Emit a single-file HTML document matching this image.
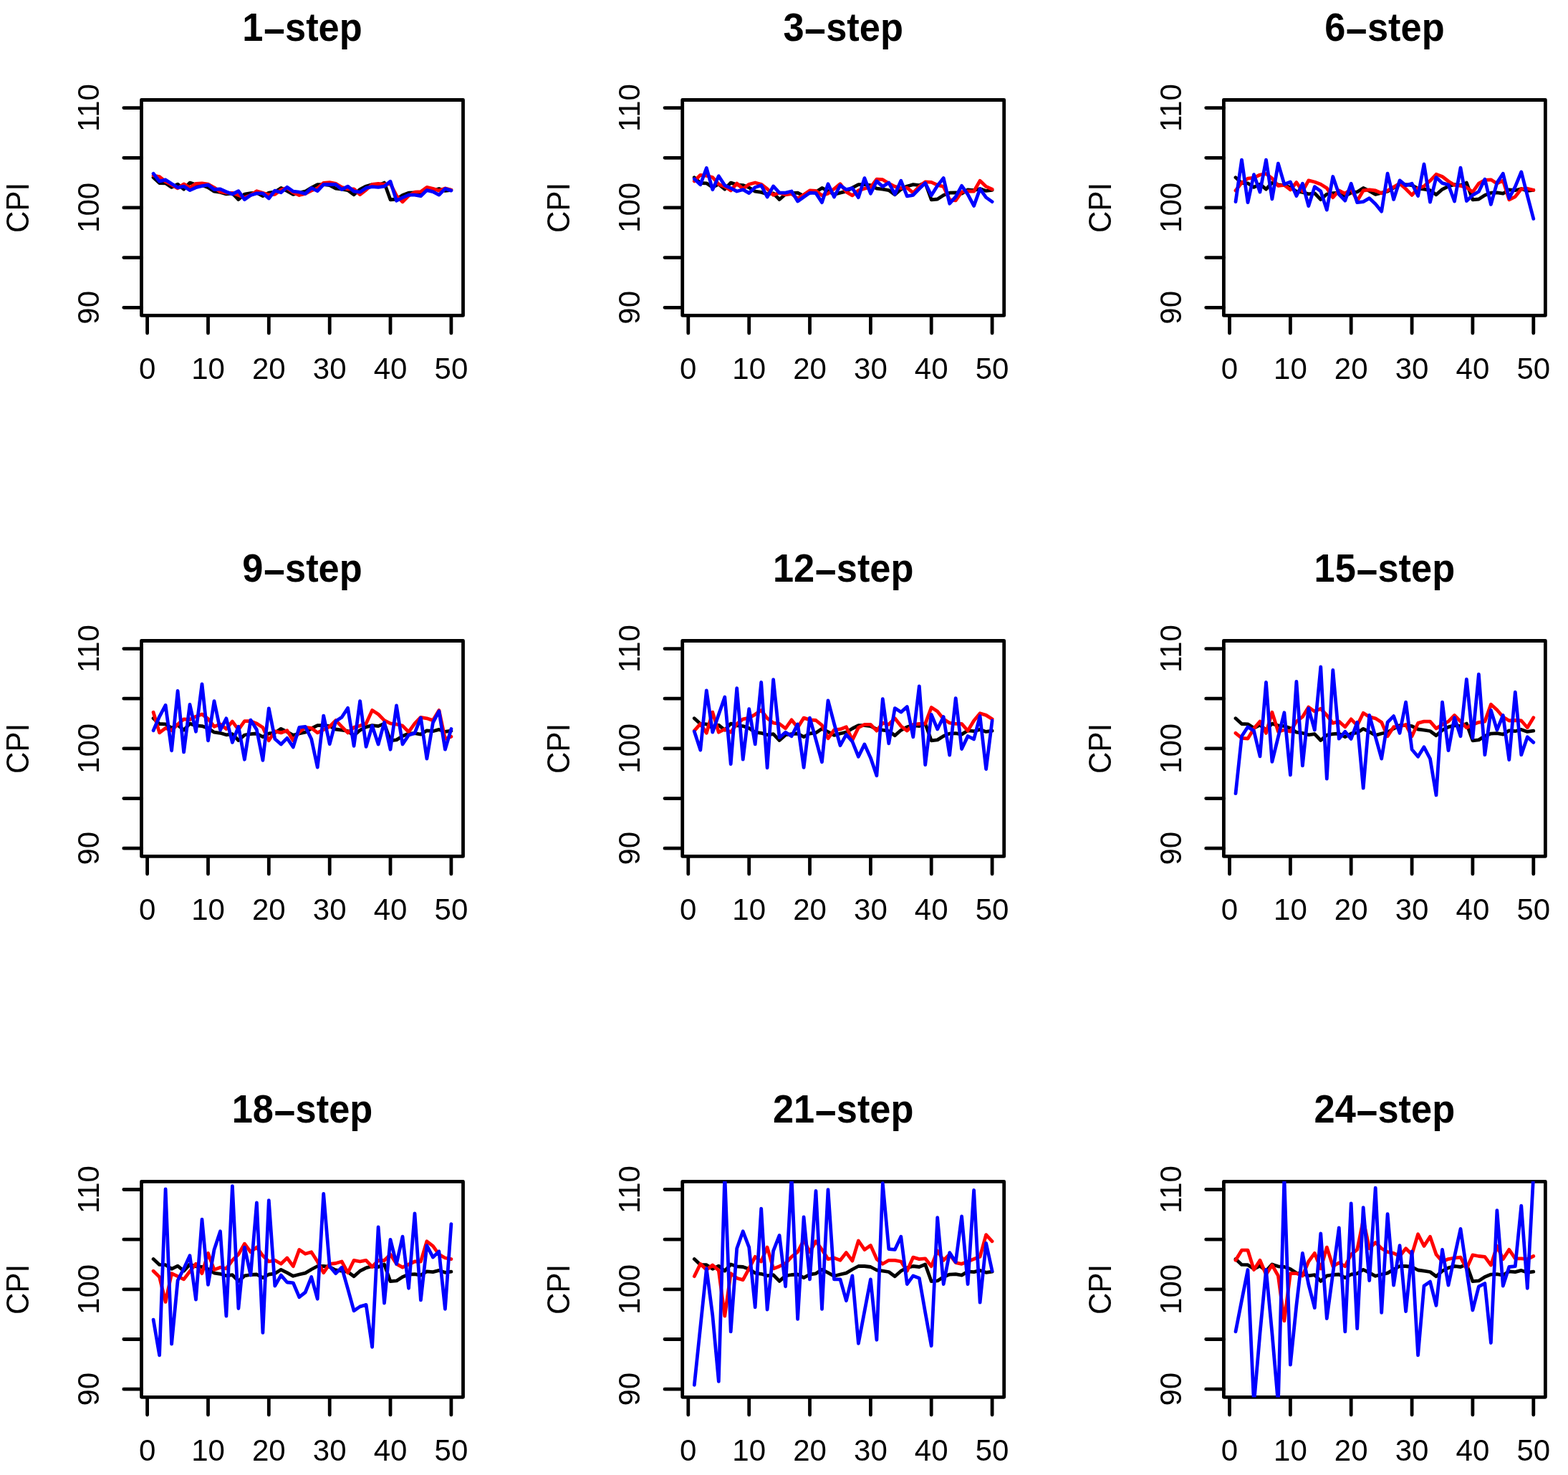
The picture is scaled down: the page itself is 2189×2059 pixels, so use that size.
<!DOCTYPE html><html><head><meta charset="utf-8"><style>html,body{margin:0;padding:0;background:#fff;}svg{display:block}</style></head><body>
<svg width="2189" height="2059" viewBox="0 0 2189 2059">
<rect width="2189" height="2059" fill="#fff"/>
<g font-family="'Liberation Sans', Arial, Helvetica, sans-serif" fill="#000">
<clipPath id="cp0"><rect x="197.2" y="139.2" width="449.6" height="301.5"/></clipPath>
<polyline points="214.1,247.7 222.6,255.5 231.1,255.8 239.6,261.4 248.1,257.2 256.6,264.2 265.0,255.1 273.5,257.9 282.0,258.6 290.5,261.7 299.0,267.2 307.5,268.4 315.9,270.9 324.4,269.8 332.9,278.5 341.4,271.0 349.9,269.6 358.4,269.1 366.9,273.7 375.3,269.1 383.8,267.9 392.3,262.4 400.8,266.7 409.3,271.4 417.8,269.1 426.2,267.2 434.7,262.1 443.2,257.6 451.7,257.6 460.2,258.6 468.7,263.1 477.1,264.2 485.6,265.6 494.1,271.8 502.6,264.3 511.1,260.0 519.6,257.6 528.1,258.6 536.5,255.1 545.0,278.8 553.5,278.0 562.0,272.5 570.5,269.2 579.0,268.8 587.4,270.2 595.9,264.9 604.4,265.7 612.9,263.5 621.4,266.4 629.9,265.3" fill="none" stroke="#000" stroke-width="4.8" stroke-linejoin="round" stroke-linecap="round" clip-path="url(#cp0)"/>
<rect x="197.5" y="139.5" width="449.0" height="300.9" fill="none" stroke="#000" stroke-width="4.8" stroke-linejoin="round"/>
<polyline points="214.1,245.0 222.6,246.6 231.1,253.7 239.6,257.9 248.1,262.9 256.6,256.9 265.0,261.8 273.5,256.4 282.0,255.8 290.5,257.2 299.0,261.8 307.5,267.7 315.9,269.1 324.4,269.3 332.9,272.5 341.4,275.7 349.9,272.5 358.4,266.7 366.9,269.3 375.3,272.0 383.8,271.4 392.3,265.0 400.8,262.4 409.3,268.8 417.8,272.5 426.2,270.4 434.7,266.1 443.2,262.9 451.7,255.3 460.2,254.7 468.7,256.4 477.1,261.3 485.6,263.9 494.1,263.9 502.6,271.6 511.1,265.0 519.6,257.5 528.1,256.4 536.5,257.5 545.0,256.5 553.5,273.2 562.0,281.7 570.5,273.2 579.0,268.2 587.4,267.7 595.9,261.3 604.4,263.3 612.9,266.1 621.4,262.9 629.9,265.0" fill="none" stroke="#f00" stroke-width="4.8" stroke-linejoin="round" stroke-linecap="round" clip-path="url(#cp0)"/>
<polyline points="214.1,242.3 222.6,253.2 231.1,250.9 239.6,256.4 248.1,261.8 256.6,260.1 265.0,265.6 273.5,261.8 282.0,259.6 290.5,258.0 299.0,264.5 307.5,263.9 315.9,267.7 324.4,271.0 332.9,266.7 341.4,278.5 349.9,272.5 358.4,269.9 366.9,269.9 375.3,276.9 383.8,266.1 392.3,268.8 400.8,261.3 409.3,267.2 417.8,268.2 426.2,270.4 434.7,262.4 443.2,266.7 451.7,257.5 460.2,257.5 468.7,257.5 477.1,264.5 485.6,260.1 494.1,267.2 502.6,268.2 511.1,262.4 519.6,260.7 528.1,261.3 536.5,260.1 545.0,253.2 553.5,280.2 562.0,275.9 570.5,272.1 579.0,272.1 587.4,273.7 595.9,265.6 604.4,267.7 612.9,272.1 621.4,263.3 629.9,266.1" fill="none" stroke="#00f" stroke-width="4.8" stroke-linejoin="round" stroke-linecap="round" clip-path="url(#cp0)"/>
<path d="M172.8,429.3H197.5M172.8,359.6H197.5M172.8,289.9H197.5M172.8,220.3H197.5M172.8,150.6H197.5M205.6,440.4V465.1M290.5,440.4V465.1M375.3,440.4V465.1M460.2,440.4V465.1M545.0,440.4V465.1M629.9,440.4V465.1" stroke="#000" stroke-width="4.8" stroke-linecap="round" fill="none"/>
<text x="205.6" y="528.8" font-size="42" text-anchor="middle">0</text>
<text x="290.5" y="528.8" font-size="42" text-anchor="middle">10</text>
<text x="375.3" y="528.8" font-size="42" text-anchor="middle">20</text>
<text x="460.2" y="528.8" font-size="42" text-anchor="middle">30</text>
<text x="545.0" y="528.8" font-size="42" text-anchor="middle">40</text>
<text x="629.9" y="528.8" font-size="42" text-anchor="middle">50</text>
<text transform="translate(137.9,429.3) rotate(-90)" font-size="42" text-anchor="middle">90</text>
<text transform="translate(137.9,289.9) rotate(-90)" font-size="42" text-anchor="middle">100</text>
<text transform="translate(137.9,150.6) rotate(-90)" font-size="42" text-anchor="middle">110</text>
<text transform="translate(40.0,289.9) rotate(-90) scale(1,1.076)" font-size="42" text-anchor="middle">CPI</text>
<text transform="translate(422.0,56.8) scale(1,1.047)" font-size="52.4" font-weight="bold" text-anchor="middle">1<tspan dy="5.2">−</tspan><tspan dy="-5.2">step</tspan></text>
<clipPath id="cp1"><rect x="952.4" y="139.2" width="449.6" height="301.5"/></clipPath>
<polyline points="969.3,247.7 977.8,255.5 986.3,255.8 994.8,261.4 1003.3,257.2 1011.8,264.2 1020.2,255.1 1028.7,257.9 1037.2,258.6 1045.7,261.7 1054.2,267.2 1062.7,268.4 1071.1,270.9 1079.6,269.8 1088.1,278.5 1096.6,271.0 1105.1,269.6 1113.6,269.1 1122.1,273.7 1130.5,269.1 1139.0,267.9 1147.5,262.4 1156.0,266.7 1164.5,271.4 1173.0,269.1 1181.4,267.2 1189.9,262.1 1198.4,257.6 1206.9,257.6 1215.4,258.6 1223.9,263.1 1232.3,264.2 1240.8,265.6 1249.3,271.8 1257.8,264.3 1266.3,260.0 1274.8,257.6 1283.3,258.6 1291.7,255.1 1300.2,278.8 1308.7,278.0 1317.2,272.5 1325.7,269.2 1334.2,268.8 1342.6,270.2 1351.1,264.9 1359.6,265.7 1368.1,263.5 1376.6,266.4 1385.1,265.3" fill="none" stroke="#000" stroke-width="4.8" stroke-linejoin="round" stroke-linecap="round" clip-path="url(#cp1)"/>
<rect x="952.7" y="139.5" width="449.0" height="300.9" fill="none" stroke="#000" stroke-width="4.8" stroke-linejoin="round"/>
<polyline points="969.3,252.9 977.8,244.3 986.3,245.4 994.8,247.5 1003.3,257.2 1011.8,260.4 1020.2,265.9 1028.7,256.1 1037.2,263.6 1045.7,257.2 1054.2,255.0 1062.7,257.2 1071.1,263.6 1079.6,272.3 1088.1,269.1 1096.6,271.8 1105.1,270.7 1113.6,277.1 1122.1,271.8 1130.5,265.9 1139.0,266.4 1147.5,272.8 1156.0,270.2 1164.5,263.6 1173.0,256.7 1181.4,267.9 1189.9,272.8 1198.4,265.9 1206.9,263.2 1215.4,261.5 1223.9,250.1 1232.3,250.7 1240.8,256.1 1249.3,260.4 1257.8,262.6 1266.3,262.1 1274.8,269.1 1283.3,260.4 1291.7,253.9 1300.2,254.4 1308.7,258.3 1317.2,260.4 1325.7,278.8 1334.2,279.9 1342.6,267.9 1351.1,267.0 1359.6,267.0 1368.1,252.3 1376.6,260.4 1385.1,264.2" fill="none" stroke="#f00" stroke-width="4.8" stroke-linejoin="round" stroke-linecap="round" clip-path="url(#cp1)"/>
<polyline points="969.3,249.7 977.8,257.8 986.3,234.5 994.8,264.7 1003.3,245.8 1011.8,258.7 1020.2,262.6 1028.7,267.0 1037.2,264.7 1045.7,269.6 1054.2,261.5 1062.7,258.7 1071.1,275.0 1079.6,259.9 1088.1,269.1 1096.6,269.1 1105.1,267.0 1113.6,281.0 1122.1,275.0 1130.5,269.1 1139.0,269.6 1147.5,282.6 1156.0,256.7 1164.5,275.0 1173.0,258.7 1181.4,264.7 1189.9,262.6 1198.4,275.6 1206.9,248.6 1215.4,270.2 1223.9,252.9 1232.3,260.4 1240.8,255.0 1249.3,271.3 1257.8,252.3 1266.3,273.9 1274.8,272.3 1283.3,263.6 1291.7,255.5 1300.2,272.8 1308.7,259.3 1317.2,248.6 1325.7,284.2 1334.2,274.6 1342.6,259.3 1351.1,271.3 1359.6,287.4 1368.1,263.6 1376.6,275.6 1385.1,281.6" fill="none" stroke="#00f" stroke-width="4.8" stroke-linejoin="round" stroke-linecap="round" clip-path="url(#cp1)"/>
<path d="M928.0,429.3H952.7M928.0,359.6H952.7M928.0,289.9H952.7M928.0,220.3H952.7M928.0,150.6H952.7M960.8,440.4V465.1M1045.7,440.4V465.1M1130.5,440.4V465.1M1215.4,440.4V465.1M1300.2,440.4V465.1M1385.1,440.4V465.1" stroke="#000" stroke-width="4.8" stroke-linecap="round" fill="none"/>
<text x="960.8" y="528.8" font-size="42" text-anchor="middle">0</text>
<text x="1045.7" y="528.8" font-size="42" text-anchor="middle">10</text>
<text x="1130.5" y="528.8" font-size="42" text-anchor="middle">20</text>
<text x="1215.4" y="528.8" font-size="42" text-anchor="middle">30</text>
<text x="1300.2" y="528.8" font-size="42" text-anchor="middle">40</text>
<text x="1385.1" y="528.8" font-size="42" text-anchor="middle">50</text>
<text transform="translate(893.1,429.3) rotate(-90)" font-size="42" text-anchor="middle">90</text>
<text transform="translate(893.1,289.9) rotate(-90)" font-size="42" text-anchor="middle">100</text>
<text transform="translate(893.1,150.6) rotate(-90)" font-size="42" text-anchor="middle">110</text>
<text transform="translate(795.2,289.9) rotate(-90) scale(1,1.076)" font-size="42" text-anchor="middle">CPI</text>
<text transform="translate(1177.2,56.8) scale(1,1.047)" font-size="52.4" font-weight="bold" text-anchor="middle">3<tspan dy="5.2">−</tspan><tspan dy="-5.2">step</tspan></text>
<clipPath id="cp2"><rect x="1708.1" y="139.2" width="449.6" height="301.5"/></clipPath>
<polyline points="1725.0,247.7 1733.5,255.5 1742.0,255.8 1750.5,261.4 1759.0,257.2 1767.5,264.2 1775.9,255.1 1784.4,257.9 1792.9,258.6 1801.4,261.7 1809.9,267.2 1818.4,268.4 1826.8,270.9 1835.3,269.8 1843.8,278.5 1852.3,271.0 1860.8,269.6 1869.3,269.1 1877.8,273.7 1886.2,269.1 1894.7,267.9 1903.2,262.4 1911.7,266.7 1920.2,271.4 1928.7,269.1 1937.1,267.2 1945.6,262.1 1954.1,257.6 1962.6,257.6 1971.1,258.6 1979.6,263.1 1988.0,264.2 1996.5,265.6 2005.0,271.8 2013.5,264.3 2022.0,260.0 2030.5,257.6 2039.0,258.6 2047.4,255.1 2055.9,278.8 2064.4,278.0 2072.9,272.5 2081.4,269.2 2089.9,268.8 2098.3,270.2 2106.8,264.9 2115.3,265.7 2123.8,263.5 2132.3,266.4 2140.8,265.3" fill="none" stroke="#000" stroke-width="4.8" stroke-linejoin="round" stroke-linecap="round" clip-path="url(#cp2)"/>
<rect x="1708.4" y="139.5" width="449.0" height="300.9" fill="none" stroke="#000" stroke-width="4.8" stroke-linejoin="round"/>
<polyline points="1725.0,266.0 1733.5,255.1 1742.0,249.1 1750.5,248.2 1759.0,244.0 1767.5,242.6 1775.9,248.9 1784.4,259.3 1792.9,258.3 1801.4,264.9 1809.9,254.6 1818.4,267.0 1826.8,251.9 1835.3,254.0 1843.8,257.2 1852.3,262.6 1860.8,275.6 1869.3,266.0 1877.8,270.3 1886.2,263.5 1894.7,280.5 1903.2,266.0 1911.7,264.9 1920.2,266.0 1928.7,269.8 1937.1,266.0 1945.6,261.1 1954.1,256.2 1962.6,263.8 1971.1,272.4 1979.6,262.6 1988.0,260.0 1996.5,252.3 2005.0,243.3 2013.5,246.5 2022.0,253.0 2030.5,258.3 2039.0,259.4 2047.4,261.7 2055.9,268.1 2064.4,256.2 2072.9,251.4 2081.4,250.8 2089.9,256.2 2098.3,251.9 2106.8,278.9 2115.3,274.6 2123.8,263.8 2132.3,263.2 2140.8,265.4" fill="none" stroke="#f00" stroke-width="4.8" stroke-linejoin="round" stroke-linecap="round" clip-path="url(#cp2)"/>
<polyline points="1725.0,281.6 1733.5,223.2 1742.0,282.7 1750.5,243.7 1759.0,268.1 1767.5,223.2 1775.9,277.8 1784.4,228.1 1792.9,257.2 1801.4,254.0 1809.9,273.5 1818.4,256.2 1826.8,287.6 1835.3,260.6 1843.8,267.0 1852.3,293.0 1860.8,246.5 1869.3,271.3 1877.8,280.1 1886.2,256.2 1894.7,282.7 1903.2,281.6 1911.7,276.7 1920.2,284.8 1928.7,295.1 1937.1,242.2 1945.6,278.4 1954.1,251.9 1962.6,258.9 1971.1,256.2 1979.6,273.5 1988.0,229.2 1996.5,282.1 2005.0,247.6 2013.5,255.7 2022.0,257.8 2030.5,281.0 2039.0,234.1 2047.4,280.5 2055.9,272.4 2064.4,267.5 2072.9,250.2 2081.4,285.4 2089.9,255.1 2098.3,242.2 2106.8,276.7 2115.3,260.6 2123.8,239.9 2132.3,273.2 2140.8,305.4" fill="none" stroke="#00f" stroke-width="4.8" stroke-linejoin="round" stroke-linecap="round" clip-path="url(#cp2)"/>
<path d="M1683.7,429.3H1708.4M1683.7,359.6H1708.4M1683.7,289.9H1708.4M1683.7,220.3H1708.4M1683.7,150.6H1708.4M1716.5,440.4V465.1M1801.4,440.4V465.1M1886.2,440.4V465.1M1971.1,440.4V465.1M2055.9,440.4V465.1M2140.8,440.4V465.1" stroke="#000" stroke-width="4.8" stroke-linecap="round" fill="none"/>
<text x="1716.5" y="528.8" font-size="42" text-anchor="middle">0</text>
<text x="1801.4" y="528.8" font-size="42" text-anchor="middle">10</text>
<text x="1886.2" y="528.8" font-size="42" text-anchor="middle">20</text>
<text x="1971.1" y="528.8" font-size="42" text-anchor="middle">30</text>
<text x="2055.9" y="528.8" font-size="42" text-anchor="middle">40</text>
<text x="2140.8" y="528.8" font-size="42" text-anchor="middle">50</text>
<text transform="translate(1648.8,429.3) rotate(-90)" font-size="42" text-anchor="middle">90</text>
<text transform="translate(1648.8,289.9) rotate(-90)" font-size="42" text-anchor="middle">100</text>
<text transform="translate(1648.8,150.6) rotate(-90)" font-size="42" text-anchor="middle">110</text>
<text transform="translate(1550.9,289.9) rotate(-90) scale(1,1.076)" font-size="42" text-anchor="middle">CPI</text>
<text transform="translate(1932.9,56.8) scale(1,1.047)" font-size="52.4" font-weight="bold" text-anchor="middle">6<tspan dy="5.2">−</tspan><tspan dy="-5.2">step</tspan></text>
<clipPath id="cp3"><rect x="197.2" y="894.2" width="449.6" height="301.5"/></clipPath>
<polyline points="214.1,1002.7 222.6,1010.5 231.1,1010.8 239.6,1016.3 248.1,1012.2 256.6,1019.1 265.0,1010.1 273.5,1012.9 282.0,1013.6 290.5,1016.6 299.0,1022.2 307.5,1023.3 315.9,1025.8 324.4,1024.7 332.9,1033.5 341.4,1026.0 349.9,1024.6 358.4,1024.0 366.9,1028.6 375.3,1024.0 383.8,1022.9 392.3,1017.3 400.8,1021.6 409.3,1026.4 417.8,1024.0 426.2,1022.2 434.7,1017.0 443.2,1012.6 451.7,1012.6 460.2,1013.6 468.7,1018.0 477.1,1019.1 485.6,1020.5 494.1,1026.8 502.6,1019.3 511.1,1014.9 519.6,1012.6 528.1,1013.6 536.5,1010.1 545.0,1033.8 553.5,1032.9 562.0,1027.5 570.5,1024.1 579.0,1023.7 587.4,1025.1 595.9,1019.8 604.4,1020.7 612.9,1018.4 621.4,1021.4 629.9,1020.2" fill="none" stroke="#000" stroke-width="4.8" stroke-linejoin="round" stroke-linecap="round" clip-path="url(#cp3)"/>
<rect x="197.5" y="894.5" width="449.0" height="300.9" fill="none" stroke="#000" stroke-width="4.8" stroke-linejoin="round"/>
<polyline points="214.1,994.2 222.6,1022.9 231.1,1016.3 239.6,1019.7 248.1,1011.0 256.6,1003.9 265.0,1004.5 273.5,1000.2 282.0,997.0 290.5,1003.4 299.0,1014.3 307.5,1011.0 315.9,1017.5 324.4,1007.1 332.9,1018.6 341.4,1006.7 349.9,1006.7 358.4,1009.9 366.9,1015.4 375.3,1033.8 383.8,1020.8 392.3,1022.9 400.8,1019.7 409.3,1033.8 417.8,1021.8 426.2,1015.4 434.7,1016.3 443.2,1022.9 451.7,1018.6 460.2,1014.3 468.7,1005.6 477.1,1014.3 485.6,1022.9 494.1,1015.4 502.6,1013.1 511.1,1009.9 519.6,991.5 528.1,997.0 536.5,1005.6 545.0,1009.9 553.5,1011.0 562.0,1013.1 570.5,1021.8 579.0,1009.9 587.4,1001.3 595.9,1002.8 604.4,1005.6 612.9,991.5 621.4,1031.5 629.9,1028.3" fill="none" stroke="#f00" stroke-width="4.8" stroke-linejoin="round" stroke-linecap="round" clip-path="url(#cp3)"/>
<polyline points="214.1,1019.7 222.6,1000.3 231.1,984.4 239.6,1047.8 248.1,964.5 256.6,1049.9 265.0,983.5 273.5,1021.2 282.0,954.8 290.5,1033.8 299.0,978.6 307.5,1019.1 315.9,1002.8 324.4,1036.4 332.9,1014.3 341.4,1060.2 349.9,1005.1 358.4,1018.6 366.9,1061.3 375.3,988.8 383.8,1031.5 392.3,1039.0 400.8,1030.4 409.3,1042.9 417.8,1015.4 426.2,1014.3 434.7,1031.5 443.2,1071.1 451.7,999.1 460.2,1038.6 468.7,1006.7 477.1,1001.3 485.6,988.3 494.1,1041.3 502.6,978.6 511.1,1042.4 519.6,1013.1 528.1,1039.0 536.5,1008.3 545.0,1046.2 553.5,985.0 562.0,1039.0 570.5,1026.1 579.0,1023.4 587.4,1001.9 595.9,1059.1 604.4,1008.8 612.9,992.7 621.4,1046.2 629.9,1017.5" fill="none" stroke="#00f" stroke-width="4.8" stroke-linejoin="round" stroke-linecap="round" clip-path="url(#cp3)"/>
<path d="M172.8,1184.2H197.5M172.8,1114.6H197.5M172.8,1044.9H197.5M172.8,975.2H197.5M172.8,905.6H197.5M205.6,1195.3V1220.0M290.5,1195.3V1220.0M375.3,1195.3V1220.0M460.2,1195.3V1220.0M545.0,1195.3V1220.0M629.9,1195.3V1220.0" stroke="#000" stroke-width="4.8" stroke-linecap="round" fill="none"/>
<text x="205.6" y="1283.8" font-size="42" text-anchor="middle">0</text>
<text x="290.5" y="1283.8" font-size="42" text-anchor="middle">10</text>
<text x="375.3" y="1283.8" font-size="42" text-anchor="middle">20</text>
<text x="460.2" y="1283.8" font-size="42" text-anchor="middle">30</text>
<text x="545.0" y="1283.8" font-size="42" text-anchor="middle">40</text>
<text x="629.9" y="1283.8" font-size="42" text-anchor="middle">50</text>
<text transform="translate(137.9,1184.2) rotate(-90)" font-size="42" text-anchor="middle">90</text>
<text transform="translate(137.9,1044.9) rotate(-90)" font-size="42" text-anchor="middle">100</text>
<text transform="translate(137.9,905.6) rotate(-90)" font-size="42" text-anchor="middle">110</text>
<text transform="translate(40.0,1044.9) rotate(-90) scale(1,1.076)" font-size="42" text-anchor="middle">CPI</text>
<text transform="translate(422.0,811.8) scale(1,1.047)" font-size="52.4" font-weight="bold" text-anchor="middle">9<tspan dy="5.2">−</tspan><tspan dy="-5.2">step</tspan></text>
<clipPath id="cp4"><rect x="952.4" y="894.2" width="449.6" height="301.5"/></clipPath>
<polyline points="969.3,1002.7 977.8,1010.5 986.3,1010.8 994.8,1016.3 1003.3,1012.2 1011.8,1019.1 1020.2,1010.1 1028.7,1012.9 1037.2,1013.6 1045.7,1016.6 1054.2,1022.2 1062.7,1023.3 1071.1,1025.8 1079.6,1024.7 1088.1,1033.5 1096.6,1026.0 1105.1,1024.6 1113.6,1024.0 1122.1,1028.6 1130.5,1024.0 1139.0,1022.9 1147.5,1017.3 1156.0,1021.6 1164.5,1026.4 1173.0,1024.0 1181.4,1022.2 1189.9,1017.0 1198.4,1012.6 1206.9,1012.6 1215.4,1013.6 1223.9,1018.0 1232.3,1019.1 1240.8,1020.5 1249.3,1026.8 1257.8,1019.3 1266.3,1014.9 1274.8,1012.6 1283.3,1013.6 1291.7,1010.1 1300.2,1033.8 1308.7,1032.9 1317.2,1027.5 1325.7,1024.1 1334.2,1023.7 1342.6,1025.1 1351.1,1019.8 1359.6,1020.7 1368.1,1018.4 1376.6,1021.4 1385.1,1020.2" fill="none" stroke="#000" stroke-width="4.8" stroke-linejoin="round" stroke-linecap="round" clip-path="url(#cp4)"/>
<rect x="952.7" y="894.5" width="449.0" height="300.9" fill="none" stroke="#000" stroke-width="4.8" stroke-linejoin="round"/>
<polyline points="969.3,1020.1 977.8,1010.4 986.3,1023.3 994.8,994.1 1003.3,1022.2 1011.8,1017.9 1020.2,1022.2 1028.7,1010.4 1037.2,1003.8 1045.7,1002.1 1054.2,997.3 1062.7,991.4 1071.1,1002.7 1079.6,1009.2 1088.1,1010.4 1096.6,1016.8 1105.1,1004.9 1113.6,1015.6 1122.1,1002.1 1130.5,1004.9 1139.0,1005.5 1147.5,1012.4 1156.0,1030.8 1164.5,1019.0 1173.0,1017.9 1181.4,1014.7 1189.9,1033.1 1198.4,1015.6 1206.9,1011.3 1215.4,1011.3 1223.9,1020.1 1232.3,1009.2 1240.8,1011.3 1249.3,1002.7 1257.8,1013.6 1266.3,1020.1 1274.8,1011.3 1283.3,1010.4 1291.7,1010.4 1300.2,987.6 1308.7,993.1 1317.2,1003.8 1325.7,1009.2 1334.2,1010.4 1342.6,1010.4 1351.1,1020.1 1359.6,1006.0 1368.1,995.7 1376.6,998.4 1385.1,1003.8" fill="none" stroke="#f00" stroke-width="4.8" stroke-linejoin="round" stroke-linecap="round" clip-path="url(#cp4)"/>
<polyline points="969.3,1021.1 977.8,1047.1 986.3,963.8 994.8,1022.2 1003.3,997.5 1011.8,973.0 1020.2,1066.5 1028.7,960.6 1037.2,1060.1 1045.7,989.7 1054.2,1038.9 1062.7,952.4 1071.1,1071.9 1079.6,948.6 1088.1,1029.7 1096.6,1022.2 1105.1,1027.6 1113.6,1010.9 1122.1,1071.4 1130.5,1002.1 1139.0,1032.4 1147.5,1063.8 1156.0,977.9 1164.5,1010.1 1173.0,1040.7 1181.4,1025.4 1189.9,1035.1 1198.4,1056.3 1206.9,1038.9 1215.4,1057.9 1223.9,1082.8 1232.3,975.7 1240.8,1037.9 1249.3,988.6 1257.8,994.1 1266.3,986.5 1274.8,1028.7 1283.3,957.8 1291.7,1067.6 1300.2,997.3 1308.7,1017.9 1317.2,1000.6 1325.7,1054.1 1334.2,974.6 1342.6,1045.5 1351.1,1027.6 1359.6,1031.9 1368.1,999.5 1376.6,1073.6 1385.1,1006.0" fill="none" stroke="#00f" stroke-width="4.8" stroke-linejoin="round" stroke-linecap="round" clip-path="url(#cp4)"/>
<path d="M928.0,1184.2H952.7M928.0,1114.6H952.7M928.0,1044.9H952.7M928.0,975.2H952.7M928.0,905.6H952.7M960.8,1195.3V1220.0M1045.7,1195.3V1220.0M1130.5,1195.3V1220.0M1215.4,1195.3V1220.0M1300.2,1195.3V1220.0M1385.1,1195.3V1220.0" stroke="#000" stroke-width="4.8" stroke-linecap="round" fill="none"/>
<text x="960.8" y="1283.8" font-size="42" text-anchor="middle">0</text>
<text x="1045.7" y="1283.8" font-size="42" text-anchor="middle">10</text>
<text x="1130.5" y="1283.8" font-size="42" text-anchor="middle">20</text>
<text x="1215.4" y="1283.8" font-size="42" text-anchor="middle">30</text>
<text x="1300.2" y="1283.8" font-size="42" text-anchor="middle">40</text>
<text x="1385.1" y="1283.8" font-size="42" text-anchor="middle">50</text>
<text transform="translate(893.1,1184.2) rotate(-90)" font-size="42" text-anchor="middle">90</text>
<text transform="translate(893.1,1044.9) rotate(-90)" font-size="42" text-anchor="middle">100</text>
<text transform="translate(893.1,905.6) rotate(-90)" font-size="42" text-anchor="middle">110</text>
<text transform="translate(795.2,1044.9) rotate(-90) scale(1,1.076)" font-size="42" text-anchor="middle">CPI</text>
<text transform="translate(1177.2,811.8) scale(1,1.047)" font-size="52.4" font-weight="bold" text-anchor="middle">12<tspan dy="5.2">−</tspan><tspan dy="-5.2">step</tspan></text>
<clipPath id="cp5"><rect x="1708.1" y="894.2" width="449.6" height="301.5"/></clipPath>
<polyline points="1725.0,1002.7 1733.5,1010.5 1742.0,1010.8 1750.5,1016.3 1759.0,1012.2 1767.5,1019.1 1775.9,1010.1 1784.4,1012.9 1792.9,1013.6 1801.4,1016.6 1809.9,1022.2 1818.4,1023.3 1826.8,1025.8 1835.3,1024.7 1843.8,1033.5 1852.3,1026.0 1860.8,1024.6 1869.3,1024.0 1877.8,1028.6 1886.2,1024.0 1894.7,1022.9 1903.2,1017.3 1911.7,1021.6 1920.2,1026.4 1928.7,1024.0 1937.1,1022.2 1945.6,1017.0 1954.1,1012.6 1962.6,1012.6 1971.1,1013.6 1979.6,1018.0 1988.0,1019.1 1996.5,1020.5 2005.0,1026.8 2013.5,1019.3 2022.0,1014.9 2030.5,1012.6 2039.0,1013.6 2047.4,1010.1 2055.9,1033.8 2064.4,1032.9 2072.9,1027.5 2081.4,1024.1 2089.9,1023.7 2098.3,1025.1 2106.8,1019.8 2115.3,1020.7 2123.8,1018.4 2132.3,1021.4 2140.8,1020.2" fill="none" stroke="#000" stroke-width="4.8" stroke-linejoin="round" stroke-linecap="round" clip-path="url(#cp5)"/>
<rect x="1708.4" y="894.5" width="449.0" height="300.9" fill="none" stroke="#000" stroke-width="4.8" stroke-linejoin="round"/>
<polyline points="1725.0,1023.4 1733.5,1030.4 1742.0,1031.0 1750.5,1016.9 1759.0,1007.1 1767.5,1023.4 1775.9,994.2 1784.4,1021.2 1792.9,1019.0 1801.4,1021.2 1809.9,1007.1 1818.4,1000.7 1826.8,987.1 1835.3,993.1 1843.8,989.3 1852.3,998.5 1860.8,1009.4 1869.3,1007.1 1877.8,1014.7 1886.2,1003.9 1894.7,1012.6 1903.2,995.3 1911.7,1000.7 1920.2,1002.8 1928.7,1008.3 1937.1,1027.8 1945.6,1014.7 1954.1,1014.3 1962.6,1011.5 1971.1,1027.8 1979.6,1009.4 1988.0,1007.1 1996.5,1007.1 2005.0,1016.9 2013.5,1011.5 2022.0,1007.1 2030.5,998.5 2039.0,1007.1 2047.4,1015.8 2055.9,1011.5 2064.4,1008.3 2072.9,1007.1 2081.4,983.3 2089.9,991.0 2098.3,1000.7 2106.8,1006.0 2115.3,1005.5 2123.8,1006.0 2132.3,1015.8 2140.8,1001.7" fill="none" stroke="#f00" stroke-width="4.8" stroke-linejoin="round" stroke-linecap="round" clip-path="url(#cp5)"/>
<polyline points="1725.0,1107.7 1733.5,1027.8 1742.0,1014.7 1750.5,1020.1 1759.0,1055.8 1767.5,952.5 1775.9,1063.4 1784.4,1028.9 1792.9,994.8 1801.4,1081.8 1809.9,951.4 1818.4,1068.9 1826.8,988.8 1835.3,1019.0 1843.8,930.9 1852.3,1087.2 1860.8,935.3 1869.3,1031.2 1877.8,1021.2 1886.2,1031.5 1894.7,1008.3 1903.2,1100.2 1911.7,998.5 1920.2,1028.7 1928.7,1059.1 1937.1,1008.3 1945.6,999.6 1954.1,1023.4 1962.6,980.1 1971.1,1046.2 1979.6,1056.3 1988.0,1042.8 1996.5,1059.1 2005.0,1110.0 2013.5,980.1 2022.0,1047.7 2030.5,1001.7 2039.0,1027.8 2047.4,948.2 2055.9,1030.4 2064.4,941.1 2072.9,1053.7 2081.4,991.4 2089.9,1019.0 2098.3,998.5 2106.8,1060.6 2115.3,966.1 2123.8,1053.7 2132.3,1028.7 2140.8,1036.4" fill="none" stroke="#00f" stroke-width="4.8" stroke-linejoin="round" stroke-linecap="round" clip-path="url(#cp5)"/>
<path d="M1683.7,1184.2H1708.4M1683.7,1114.6H1708.4M1683.7,1044.9H1708.4M1683.7,975.2H1708.4M1683.7,905.6H1708.4M1716.5,1195.3V1220.0M1801.4,1195.3V1220.0M1886.2,1195.3V1220.0M1971.1,1195.3V1220.0M2055.9,1195.3V1220.0M2140.8,1195.3V1220.0" stroke="#000" stroke-width="4.8" stroke-linecap="round" fill="none"/>
<text x="1716.5" y="1283.8" font-size="42" text-anchor="middle">0</text>
<text x="1801.4" y="1283.8" font-size="42" text-anchor="middle">10</text>
<text x="1886.2" y="1283.8" font-size="42" text-anchor="middle">20</text>
<text x="1971.1" y="1283.8" font-size="42" text-anchor="middle">30</text>
<text x="2055.9" y="1283.8" font-size="42" text-anchor="middle">40</text>
<text x="2140.8" y="1283.8" font-size="42" text-anchor="middle">50</text>
<text transform="translate(1648.8,1184.2) rotate(-90)" font-size="42" text-anchor="middle">90</text>
<text transform="translate(1648.8,1044.9) rotate(-90)" font-size="42" text-anchor="middle">100</text>
<text transform="translate(1648.8,905.6) rotate(-90)" font-size="42" text-anchor="middle">110</text>
<text transform="translate(1550.9,1044.9) rotate(-90) scale(1,1.076)" font-size="42" text-anchor="middle">CPI</text>
<text transform="translate(1932.9,811.8) scale(1,1.047)" font-size="52.4" font-weight="bold" text-anchor="middle">15<tspan dy="5.2">−</tspan><tspan dy="-5.2">step</tspan></text>
<clipPath id="cp6"><rect x="197.2" y="1649.1" width="449.6" height="301.5"/></clipPath>
<polyline points="214.1,1757.6 222.6,1765.4 231.1,1765.7 239.6,1771.3 248.1,1767.1 256.6,1774.1 265.0,1765.0 273.5,1767.8 282.0,1768.5 290.5,1771.6 299.0,1777.1 307.5,1778.3 315.9,1780.8 324.4,1779.7 332.9,1788.4 341.4,1780.9 349.9,1779.5 358.4,1779.0 366.9,1783.6 375.3,1779.0 383.8,1777.8 392.3,1772.3 400.8,1776.6 409.3,1781.3 417.8,1779.0 426.2,1777.1 434.7,1772.0 443.2,1767.5 451.7,1767.5 460.2,1768.5 468.7,1773.0 477.1,1774.1 485.6,1775.5 494.1,1781.7 502.6,1774.2 511.1,1769.9 519.6,1767.5 528.1,1768.5 536.5,1765.0 545.0,1788.7 553.5,1787.9 562.0,1782.4 570.5,1779.1 579.0,1778.7 587.4,1780.1 595.9,1774.8 604.4,1775.6 612.9,1773.4 621.4,1776.3 629.9,1775.2" fill="none" stroke="#000" stroke-width="4.8" stroke-linejoin="round" stroke-linecap="round" clip-path="url(#cp6)"/>
<rect x="197.5" y="1649.4" width="449.0" height="300.9" fill="none" stroke="#000" stroke-width="4.8" stroke-linejoin="round"/>
<polyline points="214.1,1774.2 222.6,1782.6 231.1,1817.4 239.6,1777.6 248.1,1781.7 256.6,1785.9 265.0,1774.8 273.5,1764.3 282.0,1777.6 290.5,1749.4 299.0,1772.5 307.5,1769.2 315.9,1770.9 324.4,1759.3 332.9,1751.1 341.4,1736.2 349.9,1747.7 358.4,1741.1 366.9,1752.8 375.3,1761.0 383.8,1759.3 392.3,1764.3 400.8,1756.0 409.3,1767.7 417.8,1744.4 426.2,1750.3 434.7,1747.7 443.2,1761.0 451.7,1776.7 460.2,1764.3 468.7,1763.5 477.1,1761.0 485.6,1776.7 494.1,1759.3 502.6,1761.0 511.1,1759.3 519.6,1768.5 528.1,1759.5 536.5,1759.5 545.0,1751.1 553.5,1764.3 562.0,1769.2 570.5,1765.0 579.0,1761.0 587.4,1761.0 595.9,1732.8 604.4,1739.4 612.9,1751.1 621.4,1756.0 629.9,1757.6" fill="none" stroke="#f00" stroke-width="4.8" stroke-linejoin="round" stroke-linecap="round" clip-path="url(#cp6)"/>
<polyline points="214.1,1842.2 222.6,1891.9 231.1,1659.8 239.6,1876.2 248.1,1787.5 256.6,1770.9 265.0,1752.8 273.5,1814.1 282.0,1702.2 290.5,1793.3 299.0,1744.4 307.5,1718.8 315.9,1837.2 324.4,1655.7 332.9,1826.5 341.4,1741.1 349.9,1780.1 358.4,1678.9 366.9,1860.4 375.3,1675.6 383.8,1795.0 392.3,1780.1 400.8,1790.0 409.3,1790.8 417.8,1810.7 426.2,1804.0 434.7,1782.6 443.2,1813.2 451.7,1666.5 460.2,1767.7 468.7,1777.6 477.1,1769.2 485.6,1799.2 494.1,1829.8 502.6,1823.9 511.1,1821.4 519.6,1880.4 528.1,1712.9 536.5,1819.1 545.0,1730.3 553.5,1764.3 562.0,1726.2 570.5,1798.3 579.0,1693.8 587.4,1814.9 595.9,1738.6 604.4,1755.1 612.9,1746.9 621.4,1827.3 629.9,1708.7" fill="none" stroke="#00f" stroke-width="4.8" stroke-linejoin="round" stroke-linecap="round" clip-path="url(#cp6)"/>
<path d="M172.8,1939.2H197.5M172.8,1869.5H197.5M172.8,1799.9H197.5M172.8,1730.2H197.5M172.8,1660.5H197.5M205.6,1950.3V1975.0M290.5,1950.3V1975.0M375.3,1950.3V1975.0M460.2,1950.3V1975.0M545.0,1950.3V1975.0M629.9,1950.3V1975.0" stroke="#000" stroke-width="4.8" stroke-linecap="round" fill="none"/>
<text x="205.6" y="2038.7" font-size="42" text-anchor="middle">0</text>
<text x="290.5" y="2038.7" font-size="42" text-anchor="middle">10</text>
<text x="375.3" y="2038.7" font-size="42" text-anchor="middle">20</text>
<text x="460.2" y="2038.7" font-size="42" text-anchor="middle">30</text>
<text x="545.0" y="2038.7" font-size="42" text-anchor="middle">40</text>
<text x="629.9" y="2038.7" font-size="42" text-anchor="middle">50</text>
<text transform="translate(137.9,1939.2) rotate(-90)" font-size="42" text-anchor="middle">90</text>
<text transform="translate(137.9,1799.9) rotate(-90)" font-size="42" text-anchor="middle">100</text>
<text transform="translate(137.9,1660.5) rotate(-90)" font-size="42" text-anchor="middle">110</text>
<text transform="translate(40.0,1799.9) rotate(-90) scale(1,1.076)" font-size="42" text-anchor="middle">CPI</text>
<text transform="translate(422.0,1566.7) scale(1,1.047)" font-size="52.4" font-weight="bold" text-anchor="middle">18<tspan dy="5.2">−</tspan><tspan dy="-5.2">step</tspan></text>
<clipPath id="cp7"><rect x="952.4" y="1649.1" width="449.6" height="301.5"/></clipPath>
<polyline points="969.3,1757.6 977.8,1765.4 986.3,1765.7 994.8,1771.3 1003.3,1767.1 1011.8,1774.1 1020.2,1765.0 1028.7,1767.8 1037.2,1768.5 1045.7,1771.6 1054.2,1777.1 1062.7,1778.3 1071.1,1780.8 1079.6,1779.7 1088.1,1788.4 1096.6,1780.9 1105.1,1779.5 1113.6,1779.0 1122.1,1783.6 1130.5,1779.0 1139.0,1777.8 1147.5,1772.3 1156.0,1776.6 1164.5,1781.3 1173.0,1779.0 1181.4,1777.1 1189.9,1772.0 1198.4,1767.5 1206.9,1767.5 1215.4,1768.5 1223.9,1773.0 1232.3,1774.1 1240.8,1775.5 1249.3,1781.7 1257.8,1774.2 1266.3,1769.9 1274.8,1767.5 1283.3,1768.5 1291.7,1765.0 1300.2,1788.7 1308.7,1787.9 1317.2,1782.4 1325.7,1779.1 1334.2,1778.7 1342.6,1780.1 1351.1,1774.8 1359.6,1775.6 1368.1,1773.4 1376.6,1776.3 1385.1,1775.2" fill="none" stroke="#000" stroke-width="4.8" stroke-linejoin="round" stroke-linecap="round" clip-path="url(#cp7)"/>
<rect x="952.7" y="1649.4" width="449.0" height="300.9" fill="none" stroke="#000" stroke-width="4.8" stroke-linejoin="round"/>
<polyline points="969.3,1781.7 977.8,1764.3 986.3,1772.5 994.8,1766.0 1003.3,1773.4 1011.8,1837.2 1020.2,1777.6 1028.7,1784.2 1037.2,1786.6 1045.7,1770.9 1054.2,1754.3 1062.7,1761.0 1071.1,1741.1 1079.6,1770.9 1088.1,1767.7 1096.6,1763.6 1105.1,1754.3 1113.6,1747.7 1122.1,1731.2 1130.5,1747.7 1139.0,1732.8 1147.5,1744.4 1156.0,1757.6 1164.5,1756.0 1173.0,1759.3 1181.4,1748.6 1189.9,1760.1 1198.4,1732.0 1206.9,1744.4 1215.4,1738.6 1223.9,1757.6 1232.3,1764.3 1240.8,1759.3 1249.3,1759.3 1257.8,1761.0 1266.3,1774.2 1274.8,1755.1 1283.3,1757.6 1291.7,1756.8 1300.2,1767.7 1308.7,1746.1 1317.2,1759.3 1325.7,1751.1 1334.2,1762.7 1342.6,1764.3 1351.1,1761.0 1359.6,1757.6 1368.1,1754.3 1376.6,1723.6 1385.1,1732.8" fill="none" stroke="#f00" stroke-width="4.8" stroke-linejoin="round" stroke-linecap="round" clip-path="url(#cp7)"/>
<polyline points="969.3,1933.4 977.8,1852.2 986.3,1770.9 994.8,1836.1 1003.3,1928.4 1011.8,1639.6 1020.2,1858.8 1028.7,1742.7 1037.2,1718.8 1045.7,1741.1 1054.2,1824.8 1062.7,1687.2 1071.1,1828.1 1079.6,1746.1 1088.1,1724.5 1096.6,1795.8 1105.1,1642.4 1113.6,1841.4 1122.1,1698.9 1130.5,1785.9 1139.0,1662.4 1147.5,1827.3 1156.0,1660.7 1164.5,1785.9 1173.0,1785.9 1181.4,1815.7 1189.9,1780.9 1198.4,1875.4 1206.9,1830.5 1215.4,1785.9 1223.9,1870.3 1232.3,1651.6 1240.8,1743.6 1249.3,1744.4 1257.8,1726.2 1266.3,1792.5 1274.8,1780.9 1283.3,1784.2 1291.7,1832.2 1300.2,1878.7 1308.7,1699.7 1317.2,1792.5 1325.7,1748.6 1334.2,1761.8 1342.6,1698.0 1351.1,1792.5 1359.6,1661.5 1368.1,1818.2 1376.6,1735.4 1385.1,1774.2" fill="none" stroke="#00f" stroke-width="4.8" stroke-linejoin="round" stroke-linecap="round" clip-path="url(#cp7)"/>
<path d="M928.0,1939.2H952.7M928.0,1869.5H952.7M928.0,1799.9H952.7M928.0,1730.2H952.7M928.0,1660.5H952.7M960.8,1950.3V1975.0M1045.7,1950.3V1975.0M1130.5,1950.3V1975.0M1215.4,1950.3V1975.0M1300.2,1950.3V1975.0M1385.1,1950.3V1975.0" stroke="#000" stroke-width="4.8" stroke-linecap="round" fill="none"/>
<text x="960.8" y="2038.7" font-size="42" text-anchor="middle">0</text>
<text x="1045.7" y="2038.7" font-size="42" text-anchor="middle">10</text>
<text x="1130.5" y="2038.7" font-size="42" text-anchor="middle">20</text>
<text x="1215.4" y="2038.7" font-size="42" text-anchor="middle">30</text>
<text x="1300.2" y="2038.7" font-size="42" text-anchor="middle">40</text>
<text x="1385.1" y="2038.7" font-size="42" text-anchor="middle">50</text>
<text transform="translate(893.1,1939.2) rotate(-90)" font-size="42" text-anchor="middle">90</text>
<text transform="translate(893.1,1799.9) rotate(-90)" font-size="42" text-anchor="middle">100</text>
<text transform="translate(893.1,1660.5) rotate(-90)" font-size="42" text-anchor="middle">110</text>
<text transform="translate(795.2,1799.9) rotate(-90) scale(1,1.076)" font-size="42" text-anchor="middle">CPI</text>
<text transform="translate(1177.2,1566.7) scale(1,1.047)" font-size="52.4" font-weight="bold" text-anchor="middle">21<tspan dy="5.2">−</tspan><tspan dy="-5.2">step</tspan></text>
<clipPath id="cp8"><rect x="1708.1" y="1649.1" width="449.6" height="301.5"/></clipPath>
<polyline points="1725.0,1757.6 1733.5,1765.4 1742.0,1765.7 1750.5,1771.3 1759.0,1767.1 1767.5,1774.1 1775.9,1765.0 1784.4,1767.8 1792.9,1768.5 1801.4,1771.6 1809.9,1777.1 1818.4,1778.3 1826.8,1780.8 1835.3,1779.7 1843.8,1788.4 1852.3,1780.9 1860.8,1779.5 1869.3,1779.0 1877.8,1783.6 1886.2,1779.0 1894.7,1777.8 1903.2,1772.3 1911.7,1776.6 1920.2,1781.3 1928.7,1779.0 1937.1,1777.1 1945.6,1772.0 1954.1,1767.5 1962.6,1767.5 1971.1,1768.5 1979.6,1773.0 1988.0,1774.1 1996.5,1775.5 2005.0,1781.7 2013.5,1774.2 2022.0,1769.9 2030.5,1767.5 2039.0,1768.5 2047.4,1765.0 2055.9,1788.7 2064.4,1787.9 2072.9,1782.4 2081.4,1779.1 2089.9,1778.7 2098.3,1780.1 2106.8,1774.8 2115.3,1775.6 2123.8,1773.4 2132.3,1776.3 2140.8,1775.2" fill="none" stroke="#000" stroke-width="4.8" stroke-linejoin="round" stroke-linecap="round" clip-path="url(#cp8)"/>
<rect x="1708.4" y="1649.4" width="449.0" height="300.9" fill="none" stroke="#000" stroke-width="4.8" stroke-linejoin="round"/>
<polyline points="1725.0,1759.3 1733.5,1745.2 1742.0,1745.2 1750.5,1772.5 1759.0,1759.3 1767.5,1779.2 1775.9,1766.0 1784.4,1780.9 1792.9,1843.9 1801.4,1777.6 1809.9,1777.6 1818.4,1780.9 1826.8,1761.0 1835.3,1749.4 1843.8,1770.9 1852.3,1741.1 1860.8,1767.7 1869.3,1762.7 1877.8,1767.7 1886.2,1751.1 1894.7,1744.4 1903.2,1703.0 1911.7,1742.7 1920.2,1734.5 1928.7,1742.7 1937.1,1747.7 1945.6,1749.4 1954.1,1753.5 1962.6,1742.7 1971.1,1751.1 1979.6,1722.8 1988.0,1739.4 1996.5,1726.2 2005.0,1751.1 2013.5,1761.0 2022.0,1757.6 2030.5,1756.0 2039.0,1755.1 2047.4,1770.9 2055.9,1751.9 2064.4,1753.5 2072.9,1754.3 2081.4,1766.0 2089.9,1739.4 2098.3,1757.6 2106.8,1744.4 2115.3,1756.8 2123.8,1756.8 2132.3,1757.6 2140.8,1753.5" fill="none" stroke="#f00" stroke-width="4.8" stroke-linejoin="round" stroke-linecap="round" clip-path="url(#cp8)"/>
<polyline points="1725.0,1858.8 1733.5,1815.2 1742.0,1772.5 1750.5,1960.1 1759.0,1861.1 1767.5,1772.5 1775.9,1861.1 1784.4,1960.1 1792.9,1642.4 1801.4,1905.2 1809.9,1822.1 1818.4,1749.4 1826.8,1792.9 1835.3,1825.6 1843.8,1722.0 1852.3,1840.5 1860.8,1777.6 1869.3,1713.8 1877.8,1858.8 1886.2,1679.8 1894.7,1854.6 1903.2,1685.6 1911.7,1787.5 1920.2,1658.2 1928.7,1832.3 1937.1,1694.7 1945.6,1794.1 1954.1,1738.6 1962.6,1830.6 1971.1,1746.9 1979.6,1891.9 1988.0,1795.0 1996.5,1789.1 2005.0,1822.3 2013.5,1744.4 2022.0,1794.1 2030.5,1754.3 2039.0,1715.4 2047.4,1772.0 2055.9,1829.0 2064.4,1795.8 2072.9,1791.6 2081.4,1874.5 2089.9,1689.7 2098.3,1795.0 2106.8,1768.5 2115.3,1767.7 2123.8,1683.1 2132.3,1798.3 2140.8,1639.6" fill="none" stroke="#00f" stroke-width="4.8" stroke-linejoin="round" stroke-linecap="round" clip-path="url(#cp8)"/>
<path d="M1683.7,1939.2H1708.4M1683.7,1869.5H1708.4M1683.7,1799.9H1708.4M1683.7,1730.2H1708.4M1683.7,1660.5H1708.4M1716.5,1950.3V1975.0M1801.4,1950.3V1975.0M1886.2,1950.3V1975.0M1971.1,1950.3V1975.0M2055.9,1950.3V1975.0M2140.8,1950.3V1975.0" stroke="#000" stroke-width="4.8" stroke-linecap="round" fill="none"/>
<text x="1716.5" y="2038.7" font-size="42" text-anchor="middle">0</text>
<text x="1801.4" y="2038.7" font-size="42" text-anchor="middle">10</text>
<text x="1886.2" y="2038.7" font-size="42" text-anchor="middle">20</text>
<text x="1971.1" y="2038.7" font-size="42" text-anchor="middle">30</text>
<text x="2055.9" y="2038.7" font-size="42" text-anchor="middle">40</text>
<text x="2140.8" y="2038.7" font-size="42" text-anchor="middle">50</text>
<text transform="translate(1648.8,1939.2) rotate(-90)" font-size="42" text-anchor="middle">90</text>
<text transform="translate(1648.8,1799.9) rotate(-90)" font-size="42" text-anchor="middle">100</text>
<text transform="translate(1648.8,1660.5) rotate(-90)" font-size="42" text-anchor="middle">110</text>
<text transform="translate(1550.9,1799.9) rotate(-90) scale(1,1.076)" font-size="42" text-anchor="middle">CPI</text>
<text transform="translate(1932.9,1566.7) scale(1,1.047)" font-size="52.4" font-weight="bold" text-anchor="middle">24<tspan dy="5.2">−</tspan><tspan dy="-5.2">step</tspan></text>
</g></svg></body></html>
